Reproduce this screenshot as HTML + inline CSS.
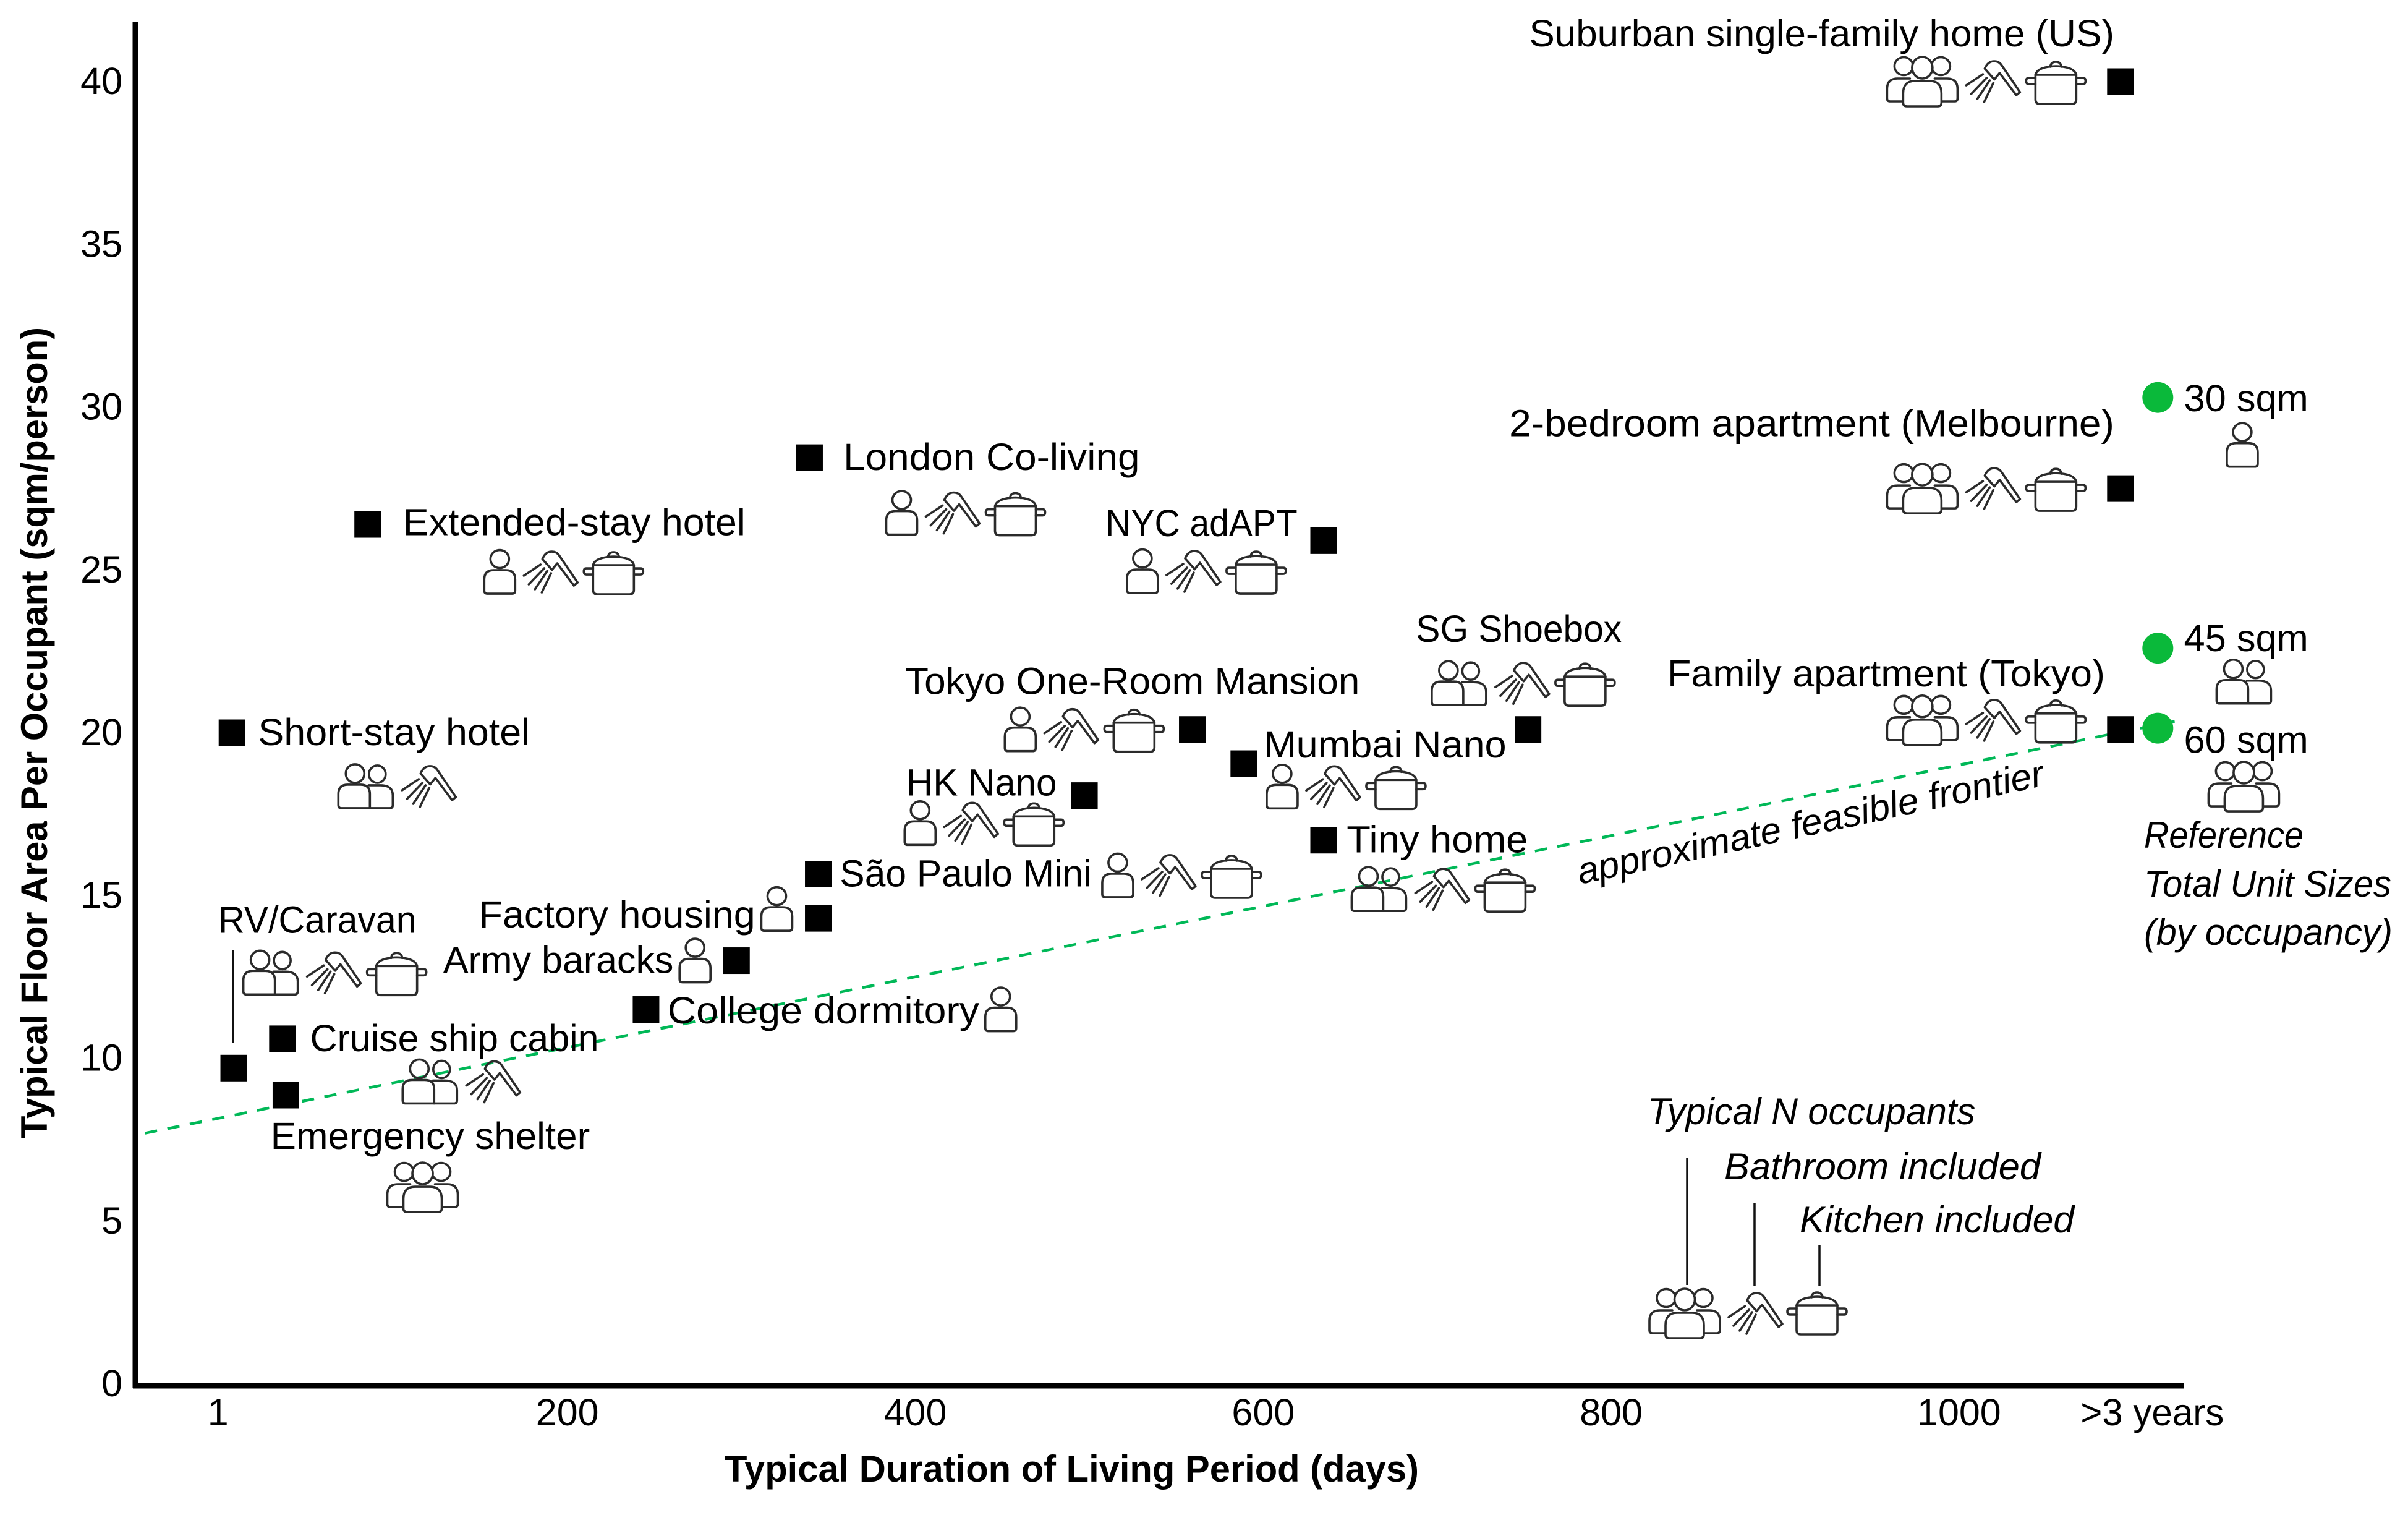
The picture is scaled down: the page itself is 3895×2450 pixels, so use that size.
<!DOCTYPE html>
<html lang="en">
<head>
<meta charset="utf-8">
<title>Typical Floor Area Per Occupant vs Duration of Living Period</title>
<style>
html,body{margin:0;padding:0;background:#fff;}
svg{display:block;}
text{font-family:"Liberation Sans",sans-serif;fill:#000;}
.icon{fill:none;stroke:#2b2b2b;stroke-width:3.6;stroke-linecap:round;stroke-linejoin:round;}
</style>
</head>
<body>
<svg id="chart" xmlns="http://www.w3.org/2000/svg" width="3895" height="2450" viewBox="0 0 3895 2450">
  <defs>
    <symbol id="people-1" overflow="visible" viewBox="-60 -45 120 90" width="120" height="90" x="-60" y="-45">
      <g class="icon">
        <ellipse cx="0" cy="-21" rx="15" ry="14.500"/>
        <path d="M-25 30V12Q-25 -3 -10 -3H10Q25 -3 25 12V30Q25 35 20 35H-20Q-25 35 -25 30Z"/>
      </g>
    </symbol>
    <symbol id="people-2" overflow="visible" viewBox="-60 -45 120 90" width="120" height="90" x="-60" y="-45">
      <g class="icon">
        <ellipse cx="-17" cy="-21" rx="15" ry="15"/>
        <ellipse cx="19" cy="-20" rx="13.500" ry="14"/>
        <path d="M5 -2H24Q44 -2 44 14V30Q44 35 39 35H7"/>
        <path d="M-44 30V12Q-44 -3 -29 -3H-8Q7 -3 7 12V35H-39Q-44 35 -44 30Z"/>
      </g>
    </symbol>
    <symbol id="people-3" overflow="visible" viewBox="-70 -50 140 100" width="140" height="100" x="-70" y="-50">
      <g class="icon">
        <ellipse cx="-30" cy="-25" rx="15" ry="14.500"/>
        <ellipse cx="30" cy="-25" rx="15" ry="14.500"/>
        <path d="M-20 -5H-40Q-57 -5 -57 12V27Q-57 32 -52 32H-31"/>
        <path d="M20 -5H40Q57 -5 57 12V27Q57 32 52 32H31"/>
        <ellipse cx="0" cy="-22.500" rx="16.500" ry="17.500" fill="#fff"/>
        <path fill="#fff" d="M-31 34V19Q-31 -1 -12 -1H12Q31 -1 31 19V34Q31 40 25 40H-25Q-31 40 -31 34Z"/>
      </g>
    </symbol>
    <symbol id="shower" overflow="visible" viewBox="-60 -45 120 90" width="120" height="90" x="-60" y="-45">
      <g class="icon">
        <path d="M-13 -21Q-8 -33 2 -33Q10 -33 14 -27L44 17L38 22L11 -14L2.500 -3.500Z"/>
        <path d="M-16 -12L-43 6"/>
        <path d="M-10 -6L-35 20"/>
        <path d="M-5 -2L-25 28"/>
        <path d="M1 2L-14 33"/>
      </g>
    </symbol>
    <symbol id="pot" overflow="visible" viewBox="-60 -45 120 90" width="120" height="90" x="-60" y="-45">
      <g class="icon">
        <path d="M-33 -13V27Q-33 34 -26 34H26Q33 34 33 27V-13"/>
        <path d="M-33 -13Q-30 -26 0 -27Q30 -26 33 -13Z"/>
        <path d="M-9 -26Q-8 -34 0 -34Q8 -34 9 -26"/>
        <path d="M-33 -8H-44Q-48 -8 -48 -3Q-48 2 -44 2H-33"/>
        <path d="M33 -8H44Q48 -8 48 -3Q48 2 44 2H33"/>
      </g>
    </symbol>
  </defs>

  <g id="frontier-layer"></g>

  <line x1="219" y1="35" x2="219" y2="2245" stroke="#000" stroke-width="9"/>
  <line x1="215" y1="2241" x2="3532" y2="2241" stroke="#000" stroke-width="9"/>

  <g id="tick-layer"></g>

  <text x="1172" y="2396" font-size="60" font-weight="bold" textLength="1123" lengthAdjust="spacingAndGlyphs">Typical Duration of Living Period (days)</text>
  <text transform="translate(76,1841) rotate(-90)" font-size="60" font-weight="bold" textLength="1312" lengthAdjust="spacingAndGlyphs">Typical Floor Area Per Occupant (sqm/person)</text>

  <text transform="translate(2556,1430) rotate(-12)" font-size="60" font-style="italic" textLength="770" lengthAdjust="spacingAndGlyphs">approximate feasible frontier</text>

  <line x1="377" y1="1536" x2="377" y2="1687" stroke="#111" stroke-width="3.500"/>

  <g id="icon-layer"></g>
  <g id="point-layer"></g>
  <g id="label-layer"></g>

  <g>
    <text x="3468" y="1371" font-size="60" font-style="italic" textLength="258" lengthAdjust="spacingAndGlyphs">Reference</text>
    <text x="3468" y="1450" font-size="60" font-style="italic" textLength="400" lengthAdjust="spacingAndGlyphs">Total Unit Sizes</text>
    <text x="3468" y="1528" font-size="60" font-style="italic" textLength="402" lengthAdjust="spacingAndGlyphs">(by occupancy)</text>
  </g>

  <g>
    <text x="2665" y="1818" font-size="60" font-style="italic" textLength="530" lengthAdjust="spacingAndGlyphs">Typical N occupants</text>
    <text x="2789" y="1907" font-size="60" font-style="italic" textLength="512" lengthAdjust="spacingAndGlyphs">Bathroom included</text>
    <text x="2911" y="1993" font-size="60" font-style="italic" textLength="444" lengthAdjust="spacingAndGlyphs">Kitchen included</text>
    <line x1="2729" y1="1872" x2="2729" y2="2078" stroke="#111" stroke-width="3.500"/>
    <line x1="2838" y1="1946" x2="2838" y2="2080" stroke="#111" stroke-width="3.500"/>
    <line x1="2943" y1="2014" x2="2943" y2="2079" stroke="#111" stroke-width="3.500"/>
    <use href="#people-3" transform="translate(2725,2124)"/>
    <use href="#shower" transform="translate(2839,2124)"/>
    <use href="#pot" transform="translate(2939,2124)"/>
  </g>
</svg>

<script>
// ---- chart data ----
const xTickValues = [1, 200, 400, 600, 800, 1000];
const xTickLabels = ["1", "200", "400", "600", "800", "1000"];
const xOpenEndTickValue = 1111;
const xOpenEndTickLabel = ">3 years";
const yTickValues = [0, 5, 10, 15, 20, 25, 30, 35, 40];

const housingNames = [
  "Suburban single-family home (US)", "2-bedroom apartment (Melbourne)", "Family apartment (Tokyo)",
  "SG Shoebox", "Mumbai Nano", "Tiny home", "NYC adAPT", "Tokyo One-Room Mansion", "HK Nano",
  "São Paulo Mini", "Factory housing", "Army baracks", "College dormitory", "London Co-living",
  "Extended-stay hotel", "Short-stay hotel", "RV/Caravan", "Cruise ship cabin", "Emergency shelter"
];
const housingDays = [1094.5, 1094.5, 1094.5, 754, 590.6, 636.5, 636.5, 561, 499, 346, 346, 299, 247, 341, 87, 9, 10, 38, 40];
const housingAreas = [40, 27.5, 20.1, 20.1, 19.05, 16.7, 25.9, 20.1, 18.07, 15.66, 14.3, 13, 11.5, 28.45, 26.4, 20, 9.7, 10.6, 8.87];
const housingOccupants = [3, 3, 3, 2, 1, 2, 1, 1, 1, 1, 1, 1, 1, 1, 1, 2, 2, 2, 3];
const housingBathroom = [1, 1, 1, 1, 1, 1, 1, 1, 1, 1, 0, 0, 0, 1, 1, 1, 1, 1, 0];
const housingKitchen = [1, 1, 1, 1, 1, 1, 1, 1, 1, 1, 0, 0, 0, 1, 1, 0, 1, 0, 0];

const referenceLabels = ["30 sqm", "45 sqm", "60 sqm"];
const referenceDays = [1116, 1116, 1116];
const referenceAreas = [30.3, 22.6, 20.14];
const referenceOccupants = [1, 2, 3];

const frontierDays = [-41, 1130];
const frontierAreas = [7.7, 20.4];

// ---- axis functions ----
function xScale(d) { return 352.7 + (d - 1) * 2.814; }
function yScale(v) { return 2238 - v * 52.65; }

// ---- annotation layout, offsets from each mark (unit = 1/2.484 px) ----
const U = 2.484;
const housingLabelLayout = [
  [-385,-23,381],[-398,-34,394],[-295,-28,285],[-73,-57,134],[13,-4,158],[15,8,118],[-142,-3,125],
  [-187,-23,296],[-116,0,98],[14,8,164],[-221,6,180],[-191,8,150],[14,9,203],[22,8,193],[23,7,223],
  [17,8,177],[-10,-88,129],[18,8,188],[-10,35,208]
];
const housingIconLayout = [
  [-129,0],[-129,0],[-129,-6],[-45,-30],[25,15],[36,32],[-118,20],[-112,0],[-107,18],[195,1],
  [-27,-6],[-27,0],[231,0],[60,36],[86,31],[87,35],[24,-62],[96,28],[89,60]
];
const referenceLabelLayout = [[17,9,81],[17,2,81],[17,16,81]];
const referenceIconLayout = [[55,31],[56,22],[56,38]];
const showerStep = {1: 82, 2: 102, 3: 114};
const potStep = 102;

const NS = "http://www.w3.org/2000/svg";
const frontierLayer = document.getElementById("frontier-layer");
const tickLayer = document.getElementById("tick-layer");
const iconLayer = document.getElementById("icon-layer");
const pointLayer = document.getElementById("point-layer");
const labelLayer = document.getElementById("label-layer");

function slug(s) {
  return s.toLowerCase().replace(/ã/g, "a").replace(/[^a-z0-9]+/g, "-").replace(/^-|-$/g, "");
}

function addText(parent, str, x, y, anchor, width, name) {
  const el = document.createElementNS(NS, "text");
  
  
  el.setAttribute("x", x);
  el.setAttribute("y", y);
  el.setAttribute("font-size", "61");
  el.setAttribute("text-anchor", anchor);
  if (width) {
    el.setAttribute("textLength", width);
    el.setAttribute("lengthAdjust", "spacingAndGlyphs");
  }
  el.textContent = str;
  parent.appendChild(el);
  return el;
}

function addIcon(symbol, x, y, name) {
  const el = document.createElementNS(NS, "use");
  
  
  el.setAttribute("href", "#" + symbol);
  el.setAttribute("transform", "translate(" + x + "," + y + ")");
  iconLayer.appendChild(el);
}

// frontier line
const frontier = document.createElementNS(NS, "line");


frontier.setAttribute("x1", xScale(frontierDays[0]));
frontier.setAttribute("y1", yScale(frontierAreas[0]));
frontier.setAttribute("x2", xScale(frontierDays[1]));
frontier.setAttribute("y2", yScale(frontierAreas[1]));
frontier.setAttribute("stroke", "#00b857");
frontier.setAttribute("stroke-width", "4.5");
frontier.setAttribute("stroke-dasharray", "20 17");
frontierLayer.appendChild(frontier);

// ticks
yTickValues.forEach(function (v) {
  addText(tickLayer, String(v), 198, yScale(v) + 20, "end", 0, "y-tick-" + v);
});
xTickValues.forEach(function (d, i) {
  addText(tickLayer, xTickLabels[i], xScale(d) + (d > 1 ? 5 : 0), 2305, "middle", 0, "x-tick-" + xTickLabels[i]);
});
addText(tickLayer, xOpenEndTickLabel, xScale(xOpenEndTickValue) + 5, 2305, "middle", 232, "x-tick-over-3-years");

// housing points
housingNames.forEach(function (name, i) {
  const key = slug(name);
  const px = xScale(housingDays[i]);
  const py = yScale(housingAreas[i]);

  const sq = document.createElementNS(NS, "rect");
  
  
  sq.setAttribute("x", px - 21.5);
  sq.setAttribute("y", py - 21.5);
  sq.setAttribute("width", 43);
  sq.setAttribute("height", 43);
  sq.setAttribute("fill", "#000");
  pointLayer.appendChild(sq);

  const lab = housingLabelLayout[i];
  addText(labelLayer, name, px + lab[0] * U, py + lab[1] * U, "start", lab[2] * U, "label-" + key);

  const ic = housingIconLayout[i];
  let ix = px + ic[0] * U;
  const iy = py + ic[1] * U;
  addIcon("people-" + housingOccupants[i], ix, iy, "occupants-icon-" + key);
  ix += showerStep[housingOccupants[i]];
  if (housingBathroom[i]) {
    addIcon("shower", ix, iy, "bathroom-icon-" + key);
  }
  ix += potStep;
  if (housingKitchen[i]) {
    addIcon("pot", ix, iy + 2, "kitchen-icon-" + key);
  }
});

// reference points
referenceLabels.forEach(function (name, i) {
  const key = slug(name);
  const px = xScale(referenceDays[i]);
  const py = yScale(referenceAreas[i]);

  const dot = document.createElementNS(NS, "circle");
  
  
  dot.setAttribute("cx", px);
  dot.setAttribute("cy", py);
  dot.setAttribute("r", 25);
  dot.setAttribute("fill", "#0ab93a");
  pointLayer.appendChild(dot);

  const lab = referenceLabelLayout[i];
  addText(labelLayer, name, px + lab[0] * U, py + lab[1] * U, "start", lab[2] * U, "reference-label-" + key);

  const ic = referenceIconLayout[i];
  addIcon("people-" + referenceOccupants[i], px + ic[0] * U, py + ic[1] * U, "reference-occupants-icon-" + key);
});
</script>
</body>
</html>
